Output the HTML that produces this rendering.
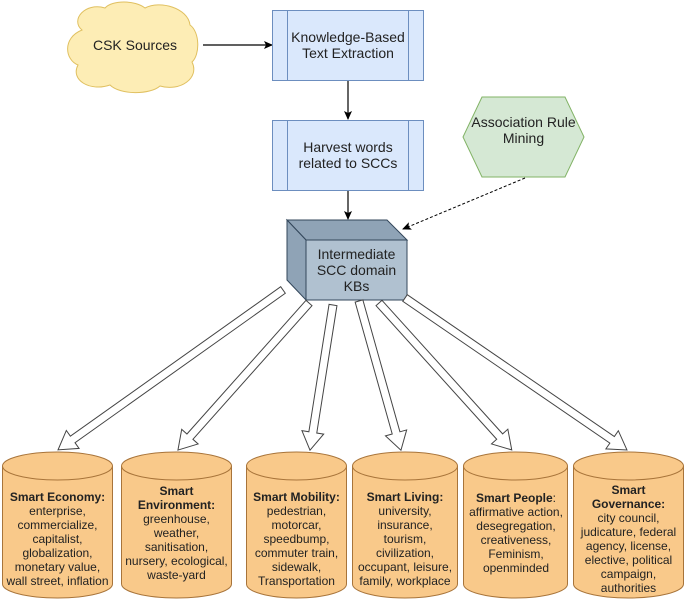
<!DOCTYPE html>
<html><head><meta charset="utf-8"><style>
body{margin:0;background:#fff;width:685px;height:603px;overflow:hidden;position:relative;font-family:"Liberation Sans",Arial,sans-serif;}
.t{position:absolute;text-align:center;color:#222;font-size:14px;line-height:16px;display:flex;align-items:center;justify-content:center;}
.c{position:absolute;text-align:center;color:#222;font-size:12px;line-height:13.9px;display:flex;align-items:center;justify-content:center;flex-direction:column;}
.c b{font-weight:bold;}
</style></head><body>
<svg width="685" height="603" style="position:absolute;left:0;top:0">
<defs>
<marker id="ah" markerWidth="10" markerHeight="10" refX="8" refY="5" orient="auto" markerUnits="userSpaceOnUse"><path d="M0,1 L9,5 L0,9 L2,5z" fill="#000"/></marker>
</defs>
<g fill="#fdedb5" stroke="#e0c060" stroke-width="1">
<path d="M82,30 C70,20 85,2 105,8 C112,0 135,0 145,8 C160,0 188,8 190,25 C200,32 200,55 192,62 C200,78 180,92 160,86 C150,95 120,95 110,85 C90,92 70,80 78,65 C65,60 62,38 82,30 Z"/>
</g>
<line x1="203" y1="45" x2="272" y2="45" stroke="#000" stroke-width="1.2" marker-end="url(#ah)"/>
<g fill="#dae8fc" stroke="#6c8ebf" stroke-width="1">
<rect x="272.5" y="10.5" width="151" height="70"/>
<line x1="287.5" y1="10.5" x2="287.5" y2="80.5"/><line x1="408.5" y1="10.5" x2="408.5" y2="80.5"/>
<rect x="272.5" y="120.5" width="151" height="70"/>
<line x1="287.5" y1="120.5" x2="287.5" y2="190.5"/><line x1="408.5" y1="120.5" x2="408.5" y2="190.5"/>
</g>
<line x1="348" y1="81" x2="348" y2="119" stroke="#000" stroke-width="1.2" marker-end="url(#ah)"/>
<line x1="348" y1="191" x2="348" y2="219" stroke="#000" stroke-width="1.2" marker-end="url(#ah)"/>
<polygon points="482,97 565,97 584,137 565,177 482,177 463,137" fill="#d5e8d4" stroke="#82b366" stroke-width="1"/>
<line x1="525" y1="178" x2="403" y2="229" stroke="#000" stroke-width="1" stroke-dasharray="3,2" marker-end="url(#ah)"/>
<g stroke="#33475b" stroke-width="1">
<polygon points="287,220 387,220 407,240 306,240" fill="#8fa3b6"/>
<polygon points="287,220 306,240 306,300 287,280" fill="#8fa3b6"/>
<rect x="306" y="240" width="101" height="60" fill="#b0c1d0"/>
</g>
<g fill="#fff" stroke="#444" stroke-width="1">
<g transform="translate(283,290) rotate(144.6)"><polygon points="0,-4 258,-4 258,-11 276,0 258,11 258,4 0,4"/></g>
<g transform="translate(309,303) rotate(131.7)"><polygon points="0,-4 179,-4 179,-11 197,0 179,11 179,4 0,4"/></g>
<g transform="translate(333,305) rotate(99)"><polygon points="0,-4 129,-4 129,-11 147,0 129,11 129,4 0,4"/></g>
<g transform="translate(359,301) rotate(74.3)"><polygon points="0,-4 137,-4 137,-11 155,0 137,11 137,4 0,4"/></g>
<g transform="translate(379,303) rotate(47.9)"><polygon points="0,-4 180,-4 180,-11 198,0 180,11 180,4 0,4"/></g>
<g transform="translate(405,298) rotate(34.4)"><polygon points="0,-4 251,-4 251,-11 269,0 251,11 251,4 0,4"/></g>
</g>
<g fill="#f9c98a" stroke="#a8743a" stroke-width="1">
<path d="M2.5,466 A55,14 0 0 1 112.5,466 L112.5,584 A55,14 0 0 1 2.5,584 Z"/><path d="M2.5,466 A55,14 0 0 0 112.5,466" fill="none"/>
<path d="M121.5,466 A55,14 0 0 1 231.5,466 L231.5,584 A55,14 0 0 1 121.5,584 Z"/><path d="M121.5,466 A55,14 0 0 0 231.5,466" fill="none"/>
<path d="M246.5,466 A50,14 0 0 1 346.5,466 L346.5,584 A50,14 0 0 1 246.5,584 Z"/><path d="M246.5,466 A50,14 0 0 0 346.5,466" fill="none"/>
<path d="M352.5,466 A52.5,14 0 0 1 457.5,466 L457.5,584 A52.5,14 0 0 1 352.5,584 Z"/><path d="M352.5,466 A52.5,14 0 0 0 457.5,466" fill="none"/>
<path d="M463.5,466 A52,14 0 0 1 567.5,466 L567.5,584 A52,14 0 0 1 463.5,584 Z"/><path d="M463.5,466 A52,14 0 0 0 567.5,466" fill="none"/>
<path d="M573.5,466 A55,14 0 0 1 683.5,466 L683.5,584 A55,14 0 0 1 573.5,584 Z"/><path d="M573.5,466 A55,14 0 0 0 683.5,466" fill="none"/>
</g>
</svg>
<div class="t" style="left:75px;top:30px;width:120px;height:30px;">CSK Sources</div>
<div class="t" style="left:287px;top:10px;width:122px;height:70px;">Knowledge-Based<br>Text Extraction</div>
<div class="t" style="left:287px;top:120px;width:122px;height:70px;">Harvest words<br>related to SCCs</div>
<div class="t" style="left:463px;top:110px;width:121px;height:40px;">Association Rule<br>Mining</div>
<div class="t" style="left:306px;top:240px;width:101px;height:60px;">Intermediate<br>SCC domain<br>KBs</div>
<div class="c" style="left:0px;top:482px;width:115px;height:116px;"><b>Smart Economy:</b>enterprise,<br>commercialize,<br>capitalist,<br>globalization,<br>monetary value,<br>wall street, inflation</div>
<div class="c" style="left:119px;top:476px;width:115px;height:116px;"><div><b>Smart<br>Environment:</b></div>greenhouse,<br>weather,<br>sanitisation,<br>nursery, ecological,<br>waste-yard</div>
<div class="c" style="left:244px;top:482px;width:105px;height:116px;"><b>Smart Mobility:</b>pedestrian,<br>motorcar,<br>speedbump,<br>commuter train,<br>sidewalk,<br>Transportation</div>
<div class="c" style="left:350px;top:482px;width:110px;height:116px;"><b>Smart Living:</b>university,<br>insurance,<br>tourism,<br>civilization,<br>occupant, leisure,<br>family, workplace</div>
<div class="c" style="left:461px;top:476px;width:110px;height:116px;"><div><b>Smart People</b>:</div>affirmative action,<br>desegregation,<br>creativeness,<br>Feminism,<br>openminded</div>
<div class="c" style="left:571px;top:482px;width:115px;height:116px;"><div><b>Smart<br>Governance:</b></div>city council,<br>judicature, federal<br>agency, license,<br>elective, political<br>campaign,<br>authorities</div>
</body></html>
